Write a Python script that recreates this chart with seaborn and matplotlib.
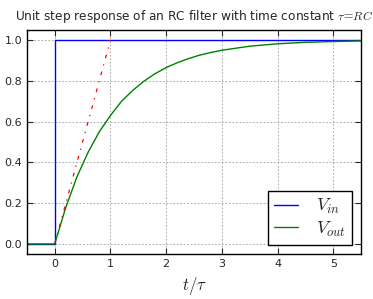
import numpy as np
import pandas as pd
import matplotlib
matplotlib.use("Agg")
import matplotlib.pyplot as plt
import seaborn as sns

# Data
vin_t = [-0.5, 0.0, 0.0, 5.5]
vin_v = [0.0, 0.0, 1.0, 1.0]

vout_t = [-0.5, 0.0, 0.2, 0.4, 0.6, 0.8, 1.0, 1.2, 1.4, 1.6, 1.8, 2.0,
          2.2, 2.4, 2.6, 2.8, 3.0, 3.5, 4.0, 4.5, 5.0, 5.5]
vout_v = [0.0, 0.0, 0.18, 0.33, 0.45, 0.55, 0.63, 0.70, 0.753, 0.798, 0.835, 0.865,
          0.889, 0.909, 0.926, 0.939, 0.950, 0.970, 0.982, 0.989, 0.993, 0.996]

tangent_t = [0.0, 1.0]
tangent_v = [0.0, 1.0]

x_ticks = [0, 1, 2, 3, 4, 5]
y_ticks = [0.0, 0.2, 0.4, 0.6, 0.8, 1.0]

sns.set_style("ticks")
plt.rcParams["font.family"] = ["DejaVu Sans"]
plt.rcParams["mathtext.fontset"] = "cm"
plt.rcParams["xtick.direction"] = "in"
plt.rcParams["ytick.direction"] = "in"

fig = plt.figure(figsize=(3.73, 2.99), dpi=100)
ax = fig.add_axes([0.072, 0.150, 0.896, 0.750])

df_in = pd.DataFrame({"t": vin_t, "v": vin_v})
df_out = pd.DataFrame({"t": vout_t, "v": vout_v})
df_tan = pd.DataFrame({"t": tangent_t, "v": tangent_v})

sns.lineplot(data=df_in, x="t", y="v", ax=ax, color="blue", lw=1.0,
             sort=False, estimator=None, label=r"$V_{in}$")
sns.lineplot(data=df_out, x="t", y="v", ax=ax, color="green", lw=1.0,
             sort=False, estimator=None, label=r"$V_{out}$")
sns.lineplot(data=df_tan, x="t", y="v", ax=ax, color="red", lw=0.9,
             sort=False, estimator=None, linestyle=(0, (3, 5, 1, 5)))

ax.set_xlim(-0.5, 5.5)
ax.set_ylim(-0.05, 1.05)
ax.set_xticks(x_ticks)
ax.set_yticks(y_ticks)
ax.tick_params(labelsize=8, top=True, right=True, length=4, width=0.8)
ax.grid(True, color="0.55", linestyle=(0, (2.5, 2.5)), linewidth=0.5)
for s in ax.spines.values():
    s.set_color("black")
    s.set_linewidth(1.0)

ax.set_xlabel(r"$t/\tau$", fontsize=12)
ax.set_ylabel("")
ax.set_title(r"Unit step response of an RC filter with time constant $\tau\!=\!RC$",
             fontsize=8.7, pad=7)

leg = ax.legend(loc="lower right", fontsize=13, fancybox=False, frameon=True,
                handlelength=1.3, handletextpad=1.0, borderpad=0.35,
                borderaxespad=0.5, labelspacing=0.2)
leg.get_frame().set_edgecolor("black")
leg.get_frame().set_linewidth(1.0)
leg.get_frame().set_alpha(1.0)

fig.savefig("out.png", dpi=100)
